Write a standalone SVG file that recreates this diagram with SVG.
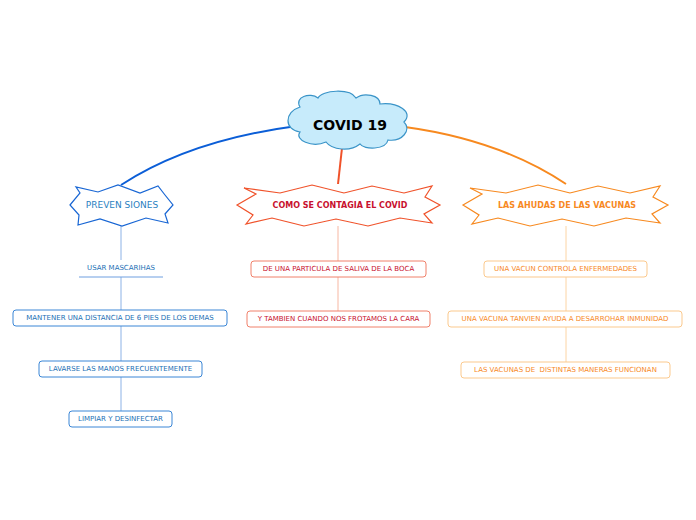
<svg xmlns="http://www.w3.org/2000/svg" width="696" height="520" viewBox="0 0 696 520">
<style>
text{font-family:"DejaVu Sans",Verdana,sans-serif;text-anchor:middle;dominant-baseline:central}
.s{font-size:7px}
.b{fill:#fff;stroke-width:1;rx:3}
.lb{stroke:#3b86d6;fill:none}
</style>
<rect width="696" height="520" fill="#fff"/>
<g id="connectors" fill="none">
<path d="M297,126 Q190,140 121,185" stroke="#0b5ed7" stroke-width="2"/>
<path d="M342,148 L338,184" stroke="#f0522a" stroke-width="2"/>
<path d="M405,127 Q500,140 566,184" stroke="#f7891f" stroke-width="2"/>
<path d="M121,226 V260 M121,277 V310 M121,326 V361 M121,377 V411" stroke="#6f9fe0" stroke-width="0.8"/>
<path d="M338,226 V261 M338,277 V311" stroke="#f5a58c" stroke-width="0.8"/>
<path d="M566,226 V261 M566,277 V311 M566,327 V362" stroke="#fbc98d" stroke-width="0.8"/>
</g>
<g id="root">
<path d="M300,107 C294,97 310,92 318,98 C322,90 350,88 356,98 C364,92 380,95 380,104 C398,102 414,112 404,122 C412,130 402,142 388,140 C386,150 364,150 360,144 C350,152 332,150 326,142 C312,148 294,140 300,132 C284,130 284,112 300,107 Z" fill="#c7ebfb" stroke="#3a94c8" stroke-width="1.2"/>
<text x="350" y="125" font-size="14" font-weight="bold" fill="#000">COVID 19</text>
</g>
<g id="n-preven">
<polygon points="70,205 80,193 76,187 98,192 118,185 140,193 158,186 165,195 173,205 165,214 168,223 146,218 122,226 100,219 78,225 79,215" fill="#fff" stroke="#1866d4" stroke-width="1.2"/>
<text x="122" y="205" font-size="9" fill="#2a7fbf">PREVEN SIONES</text>
</g>
<g id="n-contagia">
<polygon points="237,205 256,194 244,188 280,193 312,185 344,193 372,186 404,193 432,186 425,197 440,205 424,214 432,223 400,218 368,226 336,219 304,226 272,218 246,224 253,215" fill="#fff" stroke="#f0522a" stroke-width="1.2"/>
<text x="340" y="205" font-size="8" font-weight="bold" fill="#c8102e">COMO SE CONTAGIA EL COVID</text>
</g>
<g id="n-vacunas">
<polygon points="463,205 482,194 470,188 506,193 538,185 570,193 598,186 630,193 660,186 653,197 668,205 652,214 660,223 626,218 594,226 562,219 530,226 498,218 472,224 479,215" fill="#fff" stroke="#f7891f" stroke-width="1.2"/>
<text x="567" y="205" font-size="8" font-weight="bold" fill="#f7891f">LAS AHUDAS DE LAS VACUNAS</text>
</g>
<g id="n-usar">
<line x1="79" y1="277" x2="163" y2="277" stroke="#6f9fe0" stroke-width="1"/>
<text class="s" x="121" y="268" fill="#1b6fb5">USAR MASCARIHAS</text>
</g>
<g id="n-mantener"><rect class="b" x="13" y="310" width="214" height="16" stroke="#3b86d6"/><text class="s" x="120" y="318" fill="#1b6fb5">MANTENER UNA DISTANCIA DE 6 PIES DE LOS DEMAS</text></g>
<g id="n-lavarse"><rect class="b" x="39" y="361" width="163" height="16" stroke="#3b86d6"/><text class="s" x="120.5" y="369" fill="#1b6fb5">LAVARSE LAS MANOS FRECUENTEMENTE</text></g>
<g id="n-limpiar"><rect class="b" x="69" y="411" width="103" height="16" stroke="#3b86d6"/><text class="s" x="120.5" y="419" fill="#1b6fb5">LIMPIAR Y DESINFECTAR</text></g>
<g id="n-particula"><rect class="b" x="251" y="261" width="175" height="16" stroke="#f0806a"/><text class="s" x="338.5" y="269" fill="#c8102e">DE UNA PARTICULA DE SALIVA DE LA BOCA</text></g>
<g id="n-frotamos"><rect class="b" x="247" y="311" width="183" height="16" stroke="#f0806a"/><text class="s" x="338.5" y="319" fill="#c8102e">Y TAMBIEN CUANDO NOS FROTAMOS LA CARA</text></g>
<g id="n-controla"><rect class="b" x="484" y="261" width="163" height="16" stroke="#fbc98d"/><text class="s" x="565.5" y="269" fill="#f7891f">UNA VACUN CONTROLA ENFERMEDADES</text></g>
<g id="n-inmunidad"><rect class="b" x="448" y="311" width="234" height="16" stroke="#fbc98d"/><text class="s" x="565" y="319" fill="#f7891f">UNA VACUNA TANVIEN AYUDA A DESARROHAR INMUNIDAD</text></g>
<g id="n-maneras"><rect class="b" x="461" y="362" width="209" height="16" stroke="#fbc98d"/><text class="s" x="565.5" y="370" fill="#f7891f" xml:space="preserve">LAS VACUNAS DE  DISTINTAS MANERAS FUNCIONAN</text></g>
</svg>
